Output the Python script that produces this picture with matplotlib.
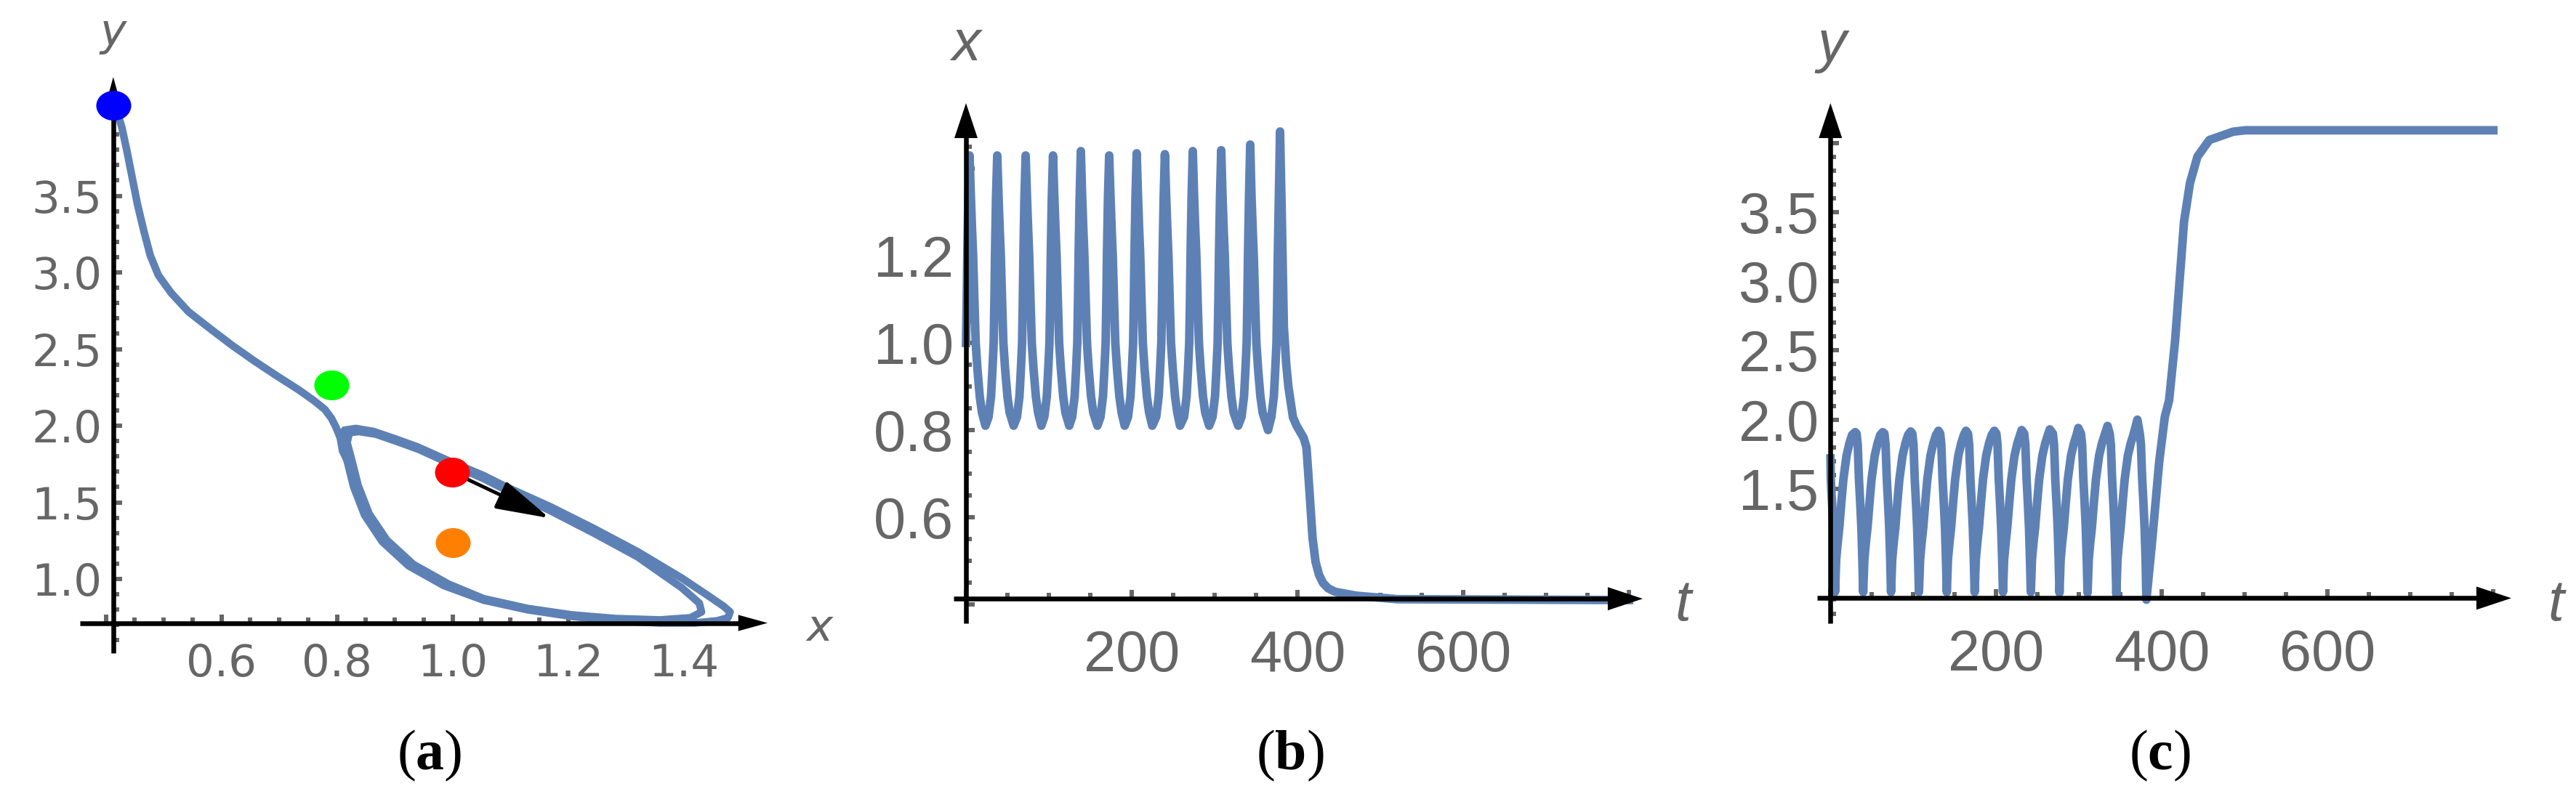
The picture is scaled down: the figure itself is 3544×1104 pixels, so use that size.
import numpy as np
import matplotlib
matplotlib.use("Agg")
import matplotlib.pyplot as plt
from matplotlib.path import Path
from matplotlib.transforms import Affine2D
from matplotlib.ticker import FixedLocator, FixedFormatter

W_PX, H_PX = 3544, 1104
CURVE = "#5E81B5"
GRAY = "#666666"

# ---------------- (a) phase plane x-y ----------------
loop_outer_x = [0.8135, 0.8326, 0.8630, 0.9011, 0.9394, 0.9987, 1.0537, 1.0918, 1.1680, 1.2443,
                1.3205, 1.3967, 1.4424, 1.4692, 1.4805, 1.4767, 1.4577, 1.4196, 1.3586, 1.2824,
                1.2062, 1.1299, 1.0537, 0.9850, 0.9240, 0.8784, 0.8478, 0.8288, 0.8174, 0.8097, 0.8135]
loop_outer_y = [1.971, 1.982, 1.963, 1.914, 1.862, 1.762, 1.675, 1.603, 1.474, 1.330,
                1.178, 1.006, 0.891, 0.822, 0.785, 0.747, 0.727, 0.713, 0.713, 0.727,
                0.756, 0.799, 0.862, 0.957, 1.086, 1.244, 1.417, 1.603, 1.776, 1.890, 1.971]

loop_inner_x = [0.8215, 0.8380, 0.8670, 0.9040, 0.9420, 1.0000, 1.0537, 1.0918, 1.1680, 1.2443,
                1.3205, 1.3967, 1.4272, 1.4310, 1.4120, 1.3586, 1.2824, 1.2062, 1.1299, 1.0537,
                0.9930, 0.9320, 0.8864, 0.8558, 0.8368, 0.8254, 0.8177, 0.8215]
loop_inner_y = [1.955, 1.962, 1.945, 1.897, 1.845, 1.745, 1.655, 1.582, 1.448, 1.300,
                1.144, 0.943, 0.842, 0.785, 0.747, 0.733, 0.742, 0.766, 0.808, 0.872,
                0.967, 1.096, 1.254, 1.425, 1.610, 1.780, 1.890, 1.955]

escape_x = [0.8174, 0.8097, 0.8059, 0.7983, 0.7906, 0.7792, 0.7601, 0.7335, 0.6953, 0.6572,
            0.6191, 0.5810, 0.5430, 0.5130, 0.4910, 0.4770, 0.4660, 0.4550, 0.4460, 0.4370,
            0.4280, 0.4200, 0.4133]
escape_y = [1.776, 1.836, 1.919, 1.991, 2.048, 2.106, 2.164, 2.235, 2.327, 2.422,
            2.523, 2.632, 2.744, 2.867, 2.982, 3.111, 3.269, 3.442, 3.614, 3.786,
            3.944, 4.045, 4.088]

eq_x = [0.413, 0.790, 0.999, 1.000]
eq_y = [4.088, 2.264, 1.698, 1.236]
eq_colors = ["#0000FF", "#00FF00", "#FF0000", "#FF8000"]
arrow_from = (0.999, 1.698)
arrow_to = (1.168, 1.397)

a_xticks = [0.4, 0.6, 0.8, 1.0, 1.2, 1.4]
a_xlabels = ["", "0.6", "0.8", "1.0", "1.2", "1.4"]
a_yticks = [1.0, 1.5, 2.0, 2.5, 3.0, 3.5, 4.0]
a_ylabels = ["1.0", "1.5", "2.0", "2.5", "3.0", "3.5", ""]

# ---------------- (b) x(t) ----------------
x_start = 1.0
x_peak_t = [4.3, 37.7, 72.0, 105.0, 138.6, 172.8, 206.0, 240.0, 273.7, 308.0, 343.0, 379.0]
x_peak = [1.43, 1.43, 1.43, 1.43, 1.44, 1.43, 1.435, 1.433, 1.44, 1.442, 1.455, 1.485]
x_trough_t = [23.5, 57.5, 90.9, 124.6, 158.6, 191.5, 224.8, 258.3, 293.5, 328.5, 364.5]
x_trough = [0.81, 0.81, 0.81, 0.81, 0.81, 0.81, 0.81, 0.81, 0.81, 0.81, 0.80]
# one spike, times relative to the peak
x_rise_dt = [-10.5, -7.5, -6.0, -4.3, -3.4, -2.7, -1.5]
x_rise = [0.83, 0.877, 0.93, 1.00, 1.10, 1.20, 1.33]
x_fall_dt = [1.5, 3.0, 4.3, 5.8, 7.4, 9.5, 12.3, 15.0]
x_fall = [1.34, 1.26, 1.20, 1.10, 1.00, 0.94, 0.877, 0.84]
x_tail_t = [381.0, 383.6, 386.5, 389.1, 394.6, 399.0, 403.6, 407.5, 410.9, 414.6,
            418.2, 421.8, 426.0, 430.9, 437.0, 445.4, 470.9, 520.0, 800.0]
x_tail = [1.30, 1.037, 0.95, 0.899, 0.829, 0.81, 0.795, 0.782, 0.760, 0.657,
          0.553, 0.498, 0.468, 0.449, 0.437, 0.429, 0.420, 0.412, 0.410]

b_tticks = [0, 200, 400, 600, 800]
b_tlabels = ["", "200", "400", "600", ""]
b_xticks = [0.4, 0.6, 0.8, 1.0, 1.2, 1.4]
b_xlabels = ["", "0.6", "0.8", "1.0", "1.2", ""]

# ---------------- (c) y(t) ----------------
y_start = 1.72
y_trough_t = [5.5, 39.5, 73.1, 106.8, 140.4, 174.0, 208.2, 241.8, 276.4, 310.3, 345.0, 381.3]
y_trough = [0.755, 0.755, 0.755, 0.755, 0.755, 0.755, 0.755, 0.755, 0.75, 0.75, 0.74, 0.70]
y_peak_t = [29.9, 63.1, 96.8, 130.4, 163.5, 197.8, 230.7, 264.7, 299.1, 334.4, 370.4]
y_peak = [1.91, 1.91, 1.915, 1.92, 1.92, 1.92, 1.925, 1.93, 1.94, 1.955, 2.0]
# one arch, times relative to the trough
y_fall_dt = [-8.0, -6.6, -5.1, -3.6, -2.2, -1.0]
y_fall = [1.90, 1.82, 1.57, 1.40, 1.22, 0.99]
y_rise_dt = [1.4, 3.2, 5.2, 7.6, 10.1, 13.9, 17.4, 20.6]
y_rise = [0.99, 1.11, 1.22, 1.40, 1.57, 1.74, 1.83, 1.89]
y_tail_t = [388.3, 396.8, 403.5, 408.7, 415.9, 421.3, 426.7, 433.9, 442.9, 457.3, 486.1, 500.5, 800.0]
y_tail = [1.13, 1.70, 2.02, 2.14, 2.57, 3.00, 3.43, 3.71, 3.90, 4.02, 4.08, 4.09, 4.09]

c_tticks = [0, 200, 400, 600, 800]
c_tlabels = ["", "200", "400", "600", ""]
c_yticks = [1.0, 1.5, 2.0, 2.5, 3.0, 3.5, 4.0]
c_ylabels = ["", "1.5", "2.0", "2.5", "3.0", "3.5", ""]


def build_x():
    t, v = [0.0], [x_start]
    n = len(x_peak_t)
    for i in range(n):
        tp = x_peak_t[i]
        for dt, val in zip(x_rise_dt, x_rise):
            if tp + dt > t[-1]:
                t.append(tp + dt)
                v.append(val)
        t.append(tp)
        v.append(x_peak[i])
        if i < n - 1:
            for dt, val in zip(x_fall_dt, x_fall):
                t.append(tp + dt)
                v.append(val)
            t.append(x_trough_t[i])
            v.append(x_trough[i])
    return t + x_tail_t, v + x_tail


def build_y():
    t, v = [0.0], [y_start]
    for k, tt in enumerate(y_trough_t):
        for dt, val in zip(y_fall_dt, y_fall):
            if tt + dt > t[-1]:
                t.append(tt + dt)
                v.append(val)
        t.append(tt)
        v.append(y_trough[k])
        if k < len(y_peak_t):
            for dt, val in zip(y_rise_dt, y_rise):
                t.append(tt + dt)
                v.append(val)
            t.append(y_peak_t[k])
            v.append(y_peak[k])
    return t + y_tail_t, v + y_tail


def px_axes(fig, left, right, top, bottom):
    return fig.add_axes([left / W_PX, 1 - bottom / H_PX, (right - left) / W_PX, (bottom - top) / H_PX])


def fig_text(fig, px, py, s, **kw):
    fig.text(px / W_PX, 1 - py / H_PX, s, **kw)


def style(ax, x0, y0, xmaj, xlab, xminor, ymaj, ylab, yminor, size, family, xpad, ypad,
          xstop, ystop, head):
    for side in ["top", "right"]:
        ax.spines[side].set_visible(False)
    ax.spines["left"].set_position(("data", x0))
    ax.spines["bottom"].set_position(("data", y0))
    xl, yl = ax.get_xlim(), ax.get_ylim()
    ax.spines["bottom"].set_bounds(xl[0], xstop)
    ax.spines["left"].set_bounds(yl[0], ystop)
    for side in ["left", "bottom"]:
        ax.spines[side].set_linewidth(4.7)
        ax.spines[side].set_capstyle("butt")
    ax.xaxis.set_major_locator(FixedLocator(xmaj))
    ax.xaxis.set_major_formatter(FixedFormatter(xlab))
    ax.xaxis.set_minor_locator(FixedLocator(xminor))
    ax.yaxis.set_major_locator(FixedLocator(ymaj))
    ax.yaxis.set_major_formatter(FixedFormatter(ylab))
    ax.yaxis.set_minor_locator(FixedLocator(yminor))
    ax.tick_params(which="major", direction="in", length=8.6, width=4.3, color=GRAY,
                   labelsize=size, labelcolor=GRAY)
    ax.tick_params(which="minor", direction="in", length=5.8, width=4.3, color=GRAY)
    ax.tick_params(axis="x", which="major", pad=xpad)
    ax.tick_params(axis="y", which="major", pad=ypad)
    for lab in ax.get_xticklabels() + ax.get_yticklabels():
        lab.set_family(family)
    ax.set_xlim(xl)
    ax.set_ylim(yl)
    hl, hw = head
    style_str = "-|>,head_length=%g,head_width=%g" % (hl, hw)
    ax.annotate("", xy=(xl[1], y0), xytext=(x0, y0), annotation_clip=False,
                arrowprops=dict(arrowstyle=style_str, mutation_scale=10, lw=0,
                                color="black", shrinkA=0, shrinkB=0))
    ax.annotate("", xy=(x0, yl[1]), xytext=(x0, y0), annotation_clip=False,
                arrowprops=dict(arrowstyle=style_str, mutation_scale=10, lw=0,
                                color="black", shrinkA=0, shrinkB=0))


plt.rcParams["mathtext.fontset"] = "custom"
plt.rcParams["mathtext.rm"] = "Liberation Serif"
plt.rcParams["mathtext.bf"] = "Liberation Serif:bold"

fig = plt.figure(figsize=(W_PX / 100, H_PX / 100), dpi=100)
narrow = ["Liberation Sans Narrow", "Liberation Sans"]
wide = ["DejaVu Sans"]

# ---- panel (a) ----
axa = px_axes(fig, 110, 1056, 106, 899)
axa.set_xlim(0.6 + (110 - 304.5) / 795, 0.6 + (1056 - 304.5) / 795)
axa.set_ylim(1 + (797 - 899) / 211, 1 + (797 - 106) / 211)
for lx, ly in [(loop_outer_x, loop_outer_y), (loop_inner_x, loop_inner_y), (escape_x, escape_y)]:
    axa.plot(lx, ly, color=CURVE, lw=7.5, solid_joinstyle="round", solid_capstyle="round", zorder=2)
axa.annotate("", xy=arrow_to, xytext=arrow_from,
             arrowprops=dict(arrowstyle="-|>,head_length=4.6,head_width=1.25", mutation_scale=10,
                             lw=3.5, color="black", shrinkA=0, shrinkB=0), zorder=4)
ell = Path.unit_circle().transformed(Affine2D().scale(1.0, 41 / 48))
for ex, ey, ec in zip(eq_x, eq_y, eq_colors):
    axa.plot([ex], [ey], marker=ell, ms=34.6, color=ec, mec="none", ls="none", zorder=5,
             clip_on=False)
style(axa, 0.413, 0.713, a_xticks, a_xlabels, np.arange(0.45, 1.51, 0.05),
      a_yticks, a_ylabels, np.arange(0.6, 4.01, 0.1), 44, wide, 20, 11,
      1.545 - 0.02, 4.275 - 0.07, (2.9, 0.8))

# ---- panel (b) ----
axb = px_axes(fig, 1312, 2260, 142, 858)
axb.set_xlim((1312 - 1329) / 1.14, (2260 - 1329) / 1.14)
axb.set_ylim(0.6 + (712 - 858) / 600, 0.6 + (712 - 142) / 600)
tb, vb = build_x()
axb.plot(tb, vb, color=CURVE, lw=8.5, solid_joinstyle="round", zorder=2)
style(axb, 0.0, 0.413, b_tticks, b_tlabels, np.arange(50, 801, 50),
      b_xticks, b_xlabels, np.arange(0.40, 1.51, 0.05), 57, narrow, 30, 12,
      816.7 - 14, 1.55 - 0.025, (3.46, 1.15))

# ---- panel (c) ----
axc = px_axes(fig, 2500, 3455, 142, 858)
axc.set_xlim((2500 - 2518.3) / 1.14, (3455 - 2518.3) / 1.14)
axc.set_ylim(2 + (577.7 - 858) / 190.6, 2 + (577.7 - 142) / 190.6)
tc, vc = build_y()
axc.plot(tc, vc, color=CURVE, lw=8.5, solid_joinstyle="round", zorder=2)
style(axc, 0.0, 0.711, c_tticks, c_tlabels, np.arange(50, 801, 50),
      c_yticks, c_ylabels, np.arange(0.6, 4.01, 0.1), 57, narrow, 30, 12,
      821.7 - 14, 4.286 - 0.08, (3.46, 1.15))

# axis names
fig_text(fig, 156, 62, "y", fontsize=44, family=wide, style="italic", color=GRAY, ha="center", va="baseline")
fig_text(fig, 1128, 882, "x", fontsize=44, family=wide, style="italic", color=GRAY, ha="center", va="baseline")
fig_text(fig, 1329, 83, "x", fontsize=57, family=narrow, style="italic", color=GRAY, ha="center", va="baseline")
fig_text(fig, 2315, 854, "t", fontsize=57, family=narrow, style="italic", color=GRAY, ha="center", va="baseline")
fig_text(fig, 2520, 84, "y", fontsize=57, family=narrow, style="italic", color=GRAY, ha="center", va="baseline")
fig_text(fig, 3516, 854, "t", fontsize=57, family=narrow, style="italic", color=GRAY, ha="center", va="baseline")

# captions
for cx, letter in [(591, "a"), (1775, "b"), (2971, "c")]:
    fig_text(fig, cx, 1040, r"($\mathbf{%s}$)" % letter, fontsize=56, family="Liberation Serif",
             color="black", ha="center", va="center")

fig.savefig("out.png", dpi=100)
